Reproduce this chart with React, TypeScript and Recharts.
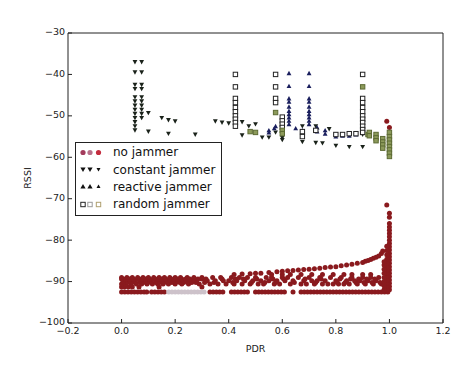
import React from 'react';
import { ScatterChart, Scatter, XAxis, YAxis, Legend } from 'recharts';

type Pt = [number, number];

const xTicks = [-0.2, 0, 0.2, 0.4, 0.6, 0.8, 1.0, 1.2];
const yTicks = [-100, -90, -80, -70, -60, -50, -40, -30];
const seriesNames = ['no jammer', 'constant jammer', 'reactive jammer', 'random jammer'];

// no jammer rows: [rssi, pdr values]
const noJammerRows: [number, number[]][] = [
  [-92.5, [0, 0.012, 0.024, 0.036, 0.048, 0.06, 0.072, 0.084, 0.094, 0.112, 0.124, 0.136, 0.148, 0.16,
    0.33, 0.342, 0.354, 0.366, 0.378, 0.41, 0.422, 0.434, 0.446, 0.458, 0.47,
    0.5, 0.512, 0.524, 0.536, 0.548, 0.56, 0.572, 0.584, 0.596, 0.608, 0.64,
    0.67, 0.682, 0.694, 0.706, 0.718, 0.73, 0.742, 0.754, 0.766, 0.778, 0.79, 0.802, 0.814, 0.826,
    0.838, 0.85, 0.862, 0.874, 0.886, 0.898, 0.91, 0.922, 0.934, 0.946, 0.958, 0.97, 0.982, 0.994]],
  [-91.3, [0, 0.01, 0.025, 0.04, 0.065, 0.14, 0.3]],
  [-90.6, [0, 0.015, 0.035, 0.055, 0.075, 0.095, 0.115, 0.135, 0.155, 0.175, 0.2, 0.225, 0.25, 0.29,
    0.33, 0.36, 0.39, 0.42, 0.45, 0.48, 0.51, 0.53, 0.57, 0.59, 0.63, 0.67, 0.69, 0.72, 0.75, 0.77,
    0.79, 0.81, 0.83, 0.85, 0.88, 0.91, 0.94, 0.97]],
  [-90.2, [0.008, 0.022, 0.038, 0.052, 0.068, 0.082, 0.098, 0.112, 0.128, 0.142, 0.158, 0.172, 0.188,
    0.202, 0.218, 0.232, 0.248, 0.262, 0.278, 0.31, 0.345, 0.415, 0.485, 0.535, 0.575, 0.645, 0.725,
    0.805, 0.835, 0.875, 0.905, 0.935, 0.965]],
  [-89.8, [0.005, 0.03, 0.05, 0.07, 0.09, 0.11, 0.13, 0.15, 0.17, 0.19, 0.21, 0.23, 0.26, 0.28, 0.32,
    0.35, 0.38, 0.4, 0.43, 0.46, 0.49, 0.52, 0.55, 0.58, 0.61, 0.64, 0.68, 0.71, 0.73, 0.76, 0.8,
    0.84, 0.87, 0.89, 0.92, 0.95]],
  [-89.4, [0, 0.015, 0.03, 0.045, 0.06, 0.075, 0.09, 0.105, 0.12, 0.135, 0.15, 0.165, 0.18, 0.195,
    0.21, 0.225, 0.24, 0.255, 0.27, 0.285, 0.3, 0.315, 0.375, 0.425, 0.455, 0.505, 0.565, 0.605,
    0.685, 0.745, 0.815, 0.855, 0.885, 0.915, 0.945]],
  [-89.0, [0, 0.02, 0.04, 0.06, 0.08, 0.1, 0.12, 0.14, 0.16, 0.18, 0.2, 0.22, 0.245, 0.27, 0.3, 0.34,
    0.37, 0.41, 0.44, 0.47, 0.5, 0.54, 0.56, 0.6, 0.62, 0.66, 0.7, 0.74, 0.78, 0.82, 0.86, 0.9, 0.93, 0.96]],
  [-88.3, [0.56, 0.6, 0.63, 0.67, 0.71, 0.75, 0.79, 0.83, 0.86, 0.9, 0.93]],
];
const noJammerFaint: [number, number[]] = [-92.5, [0.176, 0.188, 0.2, 0.212, 0.224, 0.236, 0.248, 0.26, 0.272, 0.284, 0.296, 0.308]];
const noJammerRise: Pt[] = [
  [0.42, -88.3], [0.45, -88.2], [0.48, -88.1], [0.5, -88], [0.52, -88], [0.55, -87.8], [0.58, -87.6],
  [0.6, -87.5], [0.62, -87.4], [0.64, -87.3], [0.66, -87.2], [0.68, -87.1], [0.7, -87], [0.72, -86.9],
  [0.74, -86.8], [0.76, -86.6], [0.78, -86.5], [0.8, -86.4], [0.82, -86.2], [0.84, -86], [0.86, -85.8],
  [0.88, -85.6], [0.9, -85.4], [0.91, -85.1], [0.92, -84.9], [0.93, -84.7], [0.94, -84.4], [0.95, -84.1],
  [0.96, -83.8], [0.97, -83.2], [0.975, -82.6],
];
const noJammerEdge: Pt[] = [
  [1.0, -92], [1.0, -91.2], [1.0, -90.4], [1.0, -89.6], [1.0, -88.8], [1.0, -88], [1.0, -87.2], [1.0, -86.4],
  [1.0, -85.6], [1.0, -84.8], [1.0, -84], [1.0, -83.2], [1.0, -82.4], [1.0, -81.6], [1.0, -80.8], [1.0, -80],
  [1.0, -79.2], [1.0, -78.4], [1.0, -77.6], [1.0, -76.8], [1.0, -76], [1.0, -74.5], [1.0, -73.5],
  [0.99, -92], [0.99, -91.2], [0.99, -90.4], [0.99, -89.6], [0.99, -88.8], [0.99, -88], [0.99, -87.2],
  [0.99, -86.4], [0.99, -85.5], [0.99, -84.6], [0.99, -83.5], [0.99, -82.5], [0.99, -81.5], [0.99, -71.5],
  [0.98, -92], [0.98, -91], [0.98, -90], [0.98, -89], [0.98, -88], [0.98, -87], [0.98, -86], [0.98, -85.2],
  [0.99, -51.3], [1.0, -52.8],
];

const constantJammer: Pt[] = [
  [0.05, -37], [0.05, -39.5], [0.05, -42.5], [0.05, -43.5], [0.05, -45.5], [0.05, -46.5], [0.05, -47.5],
  [0.05, -48.5], [0.05, -49.5], [0.05, -50.5], [0.05, -51.5], [0.05, -52.5], [0.05, -53.5],
  [0.075, -37], [0.075, -39.5], [0.075, -42.5], [0.075, -43.5], [0.075, -45.5], [0.075, -46.5],
  [0.075, -47.5], [0.075, -48.5], [0.075, -49.5], [0.075, -50.5],
  [0.1, -49.3], [0.1, -53.8], [0.15, -50.5], [0.175, -51], [0.175, -54.3], [0.2, -51.3], [0.275, -54.5],
  [0.35, -51.3], [0.375, -51.6], [0.4, -51.8], [0.45, -51.5], [0.45, -54.7], [0.475, -52.5], [0.5, -52],
  [0.525, -55.2], [0.55, -55.2], [0.575, -54], [0.6, -55.3], [0.6, -55.8], [0.675, -52.5], [0.675, -56.3],
  [0.725, -52.5], [0.725, -56.5], [0.75, -56.6], [0.775, -53.2], [0.8, -57.2], [0.85, -57.5],
  [0.9, -57.5], [0.9, -54.5],
];

const reactiveJammer: Pt[] = [
  [0.625, -39.7], [0.625, -42.8], [0.625, -45.8], [0.625, -46.6], [0.625, -47.8], [0.625, -48.8],
  [0.625, -49.6], [0.625, -50.4], [0.625, -51.2], [0.625, -52],
  [0.7, -39.7], [0.7, -42.8], [0.7, -45.8], [0.7, -46.6], [0.7, -47.8], [0.7, -48.8], [0.7, -49.6],
  [0.7, -50.4], [0.7, -51.2], [0.7, -52],
  [0.55, -53.5], [0.55, -54], [0.57, -53], [0.575, -52.5], [0.65, -53], [0.675, -53.5], [0.73, -52.8],
  [0.73, -53.8], [0.76, -53.5], [0.76, -54.3], [0.8, -55], [0.825, -54.8], [0.85, -54.8], [0.875, -54.5],
];

const randomJammerWhite: Pt[] = [
  [0.425, -40], [0.425, -43], [0.425, -45.8], [0.425, -46.8], [0.425, -48], [0.425, -49], [0.425, -50],
  [0.425, -50.8], [0.425, -51.6], [0.425, -52.5],
  [0.575, -40], [0.575, -43], [0.575, -45.8], [0.575, -46.8],
  [0.6, -50.3], [0.6, -51.2], [0.6, -52], [0.6, -52.8], [0.675, -53.8], [0.675, -55], [0.725, -53.5],
  [0.8, -54.5], [0.825, -54.5], [0.85, -54.3], [0.875, -54.3],
  [0.9, -40], [0.9, -45.8], [0.9, -46.8], [0.9, -48], [0.9, -49], [0.9, -50], [0.9, -50.8], [0.9, -51.6],
  [0.9, -52.5], [0.9, -53.3], [0.9, -54],
];
const randomJammerOlive: Pt[] = [
  [0.575, -49.2], [0.6, -53.5], [0.6, -54.3], [0.48, -53.8], [0.5, -54], [0.9, -43],
  [0.92, -54.5], [0.925, -54], [0.925, -54.8], [0.95, -54.5], [0.95, -55.3], [0.95, -56],
  [0.975, -55.5], [0.975, -56.3], [0.975, -57], [0.975, -57.8],
  [1.0, -54], [1.0, -55], [1.0, -55.8], [1.0, -56.6], [1.0, -57.4], [1.0, -58.2], [1.0, -59], [1.0, -59.8],
];

const toObjs = (pts: Pt[]) => pts.map(([x, y]) => ({ x, y }));
const rowObjs = ([y, xs]: [number, number[]]) => xs.map((x) => ({ x, y }));

const noJammerData = [
  ...noJammerRows.flatMap(rowObjs),
  ...toObjs(noJammerRise),
  ...toObjs(noJammerEdge),
];

const RED = '#8a1a1e';
const BLACK = '#1a221a';
const NAVY = '#1a1f5e';

const dot = (fill: string) => (p: any) => <circle cx={p.cx} cy={p.cy} r={2.5} fill={fill} />;
const triDown = (fill: string) => (p: any) => (
  <polygon points={`${p.cx - 2.4},${p.cy - 2} ${p.cx + 2.4},${p.cy - 2} ${p.cx},${p.cy + 2.4}`} fill={fill} />
);
const triUp = (fill: string) => (p: any) => (
  <polygon points={`${p.cx - 2.4},${p.cy + 2} ${p.cx + 2.4},${p.cy + 2} ${p.cx},${p.cy - 2.4}`} fill={fill} />
);
const square = (fill: string, stroke: string) => (p: any) => (
  <rect x={p.cx - 2.2} y={p.cy - 2.2} width={4.4} height={4.4} fill={fill} stroke={stroke} strokeWidth={1} />
);

const fmtX = (v: number) => (v < 0 ? '\u2212' : '') + Math.abs(v).toFixed(1);
const fmtY = (v: number) => (v < 0 ? '\u2212' : '') + Math.abs(v);

const tickStyle = { fill: '#222', fontSize: 9.5, fontFamily: 'DejaVu Sans' };

function LegendBox() {
  const markers = [
    (x: number, i: number) => <circle key={i} cx={x} cy={8.5} r={2.6} fill={['#a33b5c', '#b8708a', '#c42c3e'][i]} />,
    (x: number, i: number) => {
      const s = i === 2 ? 2 : 2.6;
      return <polygon key={i} points={`${x - s},${8.5 - s * 0.8} ${x + s},${8.5 - s * 0.8} ${x},${8.5 + s}`} fill="#111" />;
    },
    (x: number, i: number) => {
      const s = i === 2 ? 2 : 2.6;
      return <polygon key={i} points={`${x - s},${8.5 + s * 0.8} ${x + s},${8.5 + s * 0.8} ${x},${8.5 - s}`} fill="#111" />;
    },
    (x: number, i: number) => (
      <rect key={i} x={x - 2.2} y={6.3} width={4.4} height={4.4} fill="#fff" stroke={['#222', '#999', '#b0a070'][i]} strokeWidth={1} />
    ),
  ];
  return (
    <div style={{ width: 147, height: 74, boxSizing: 'border-box', border: '1px solid #222', background: '#fff', paddingTop: 0.5, fontFamily: 'DejaVu Sans', fontSize: 12, color: '#111' }}>
      {seriesNames.map((name, k) => (
        <div key={name} style={{ display: 'flex', alignItems: 'center', height: 17.4 }}>
          <svg width={37} height={17} style={{ flex: 'none' }}>
            {[7, 14, 22.5].map((x, i) => markers[k](x, i))}
          </svg>
          <span style={{ whiteSpace: 'nowrap' }}>{name}</span>
        </div>
      ))}
    </div>
  );
}

export default function App() {
  return (
    <ScatterChart width={466} height={371} margin={{ top: 24, right: 30, bottom: 21, left: 20 }}>
      <XAxis
        type="number" dataKey="x" domain={[-0.2, 1.2]} ticks={xTicks} interval={0} allowDataOverflow
        tickFormatter={fmtX} tick={tickStyle} tickSize={-4} tickMargin={8} height={35}
        stroke="#222" label={{ value: 'PDR', position: 'insideBottom', offset: 6, fill: '#222', fontSize: 9.5, fontFamily: 'DejaVu Sans' }}
      />
      <YAxis
        type="number" dataKey="y" domain={[-100, -30]} ticks={yTicks} interval={0} allowDataOverflow
        tickFormatter={fmtY} tick={{ ...tickStyle, dy: -1 }} tickSize={-4} tickMargin={7} width={40}
        stroke="#222" label={{ value: 'RSSI', angle: -90, position: 'insideLeft', offset: 0, fill: '#222', fontSize: 9.5, fontFamily: 'DejaVu Sans', style: { textAnchor: 'middle' } }}
      />
      <XAxis xAxisId="top" orientation="top" type="number" domain={[-0.2, 1.2]} ticks={xTicks} interval={0}
        tick={false} tickSize={-4} height={1} stroke="#222" />
      <YAxis yAxisId="right" orientation="right" type="number" domain={[-100, -30]} ticks={yTicks} interval={0}
        tick={false} tickSize={-4} width={1} stroke="#222" />
      <Legend layout="vertical" align="center" verticalAlign="middle" content={() => <LegendBox />}
        wrapperStyle={{ left: 67, top: 134, width: 147, height: 74 }} />
      <Scatter name="no jammer" data={noJammerData} shape={dot(RED)} isAnimationActive={false} />
      <Scatter name="no jammer faint" data={rowObjs(noJammerFaint)} shape={dot('#cdc2ca')} legendType="none" isAnimationActive={false} />
      <Scatter name="constant jammer" data={toObjs(constantJammer)} shape={triDown(BLACK)} isAnimationActive={false} />
      <Scatter name="reactive jammer" data={toObjs(reactiveJammer)} shape={triUp(NAVY)} isAnimationActive={false} />
      <Scatter name="random jammer" data={toObjs(randomJammerWhite)} shape={square('#fff', '#222')} isAnimationActive={false} />
      <Scatter name="random jammer olive" data={toObjs(randomJammerOlive)} shape={square('#8c9a5a', '#5d6b34')} legendType="none" isAnimationActive={false} />
    </ScatterChart>
  );
}
